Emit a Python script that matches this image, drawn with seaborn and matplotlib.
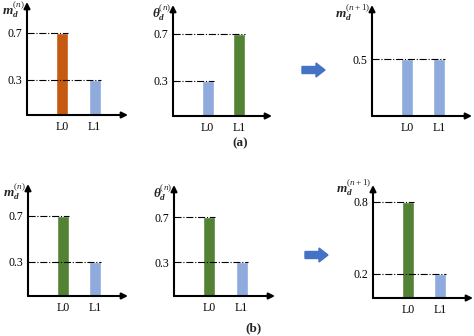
import numpy as np
import matplotlib
matplotlib.use("Agg")
import matplotlib.pyplot as plt
import matplotlib.patches as mpatches
import seaborn as sns

# data
cats = ["L0", "L1"]
m_n_a = [0.7, 0.3]
theta_n_a = [0.3, 0.7]
m_next_a = [0.5, 0.5]
m_n_b = [0.7, 0.3]
theta_n_b = [0.7, 0.3]
m_next_b = [0.8, 0.2]

orange = "#C55A11"
green = "#548235"
blue = "#8FAADC"
arrow_blue = "#4472C4"

colors_list = [[orange, blue], [blue, green], [blue, blue],
               [green, blue], [green, blue], [green, blue]]
values_list = [m_n_a, theta_n_a, m_next_a, m_n_b, theta_n_b, m_next_b]
ylabels = [r"$\mathbf{m}_{\mathbf{d}}^{(n)}$", r"$\mathbf{\theta}_{\mathbf{d}}^{(n)}$",
           r"$\mathbf{m}_{\mathbf{d}}^{(n+1)}$",
           r"$\mathbf{m}_{\mathbf{d}}^{(n)}$", r"$\mathbf{\theta}_{\mathbf{d}}^{(n)}$",
           r"$\mathbf{m}_{\mathbf{d}}^{(n+1)}$"]

# panel geometry in pixels: left, right, zero line, top, px per unit, label lift
geo = [(27, 128, 115, 2, 117.5, 2), (173, 272, 116, 5, 117.5, 2), (372, 472, 116, 5, 114, 2),
       (28, 128, 296, 184, 115, 2), (174, 275, 296, 185, 112.5, 2), (373, 473, 298, 185, 120, 5)]

sns.set_theme(style="white")
plt.rcParams["font.family"] = ["Liberation Serif", "DejaVu Serif"]
plt.rcParams["mathtext.fontset"] = "custom"
plt.rcParams["mathtext.rm"] = "Liberation Serif"
plt.rcParams["mathtext.it"] = "Liberation Serif:italic"
plt.rcParams["mathtext.bf"] = "Liberation Serif:bold:italic"

W, H = 474, 336
fig = plt.figure(figsize=(W / 100, H / 100), dpi=100)
bar_w = 0.38

for i in range(6):
    l, r, z, t, s, lift = geo[i]
    ax = fig.add_axes([l / W, 1 - z / H, (r - l) / W, (z - t) / H])
    vals = values_list[i]
    sns.barplot(x=cats, y=vals, hue=cats, palette=colors_list[i], legend=False,
                saturation=1, width=bar_w, errorbar=None, ax=ax, zorder=2)
    ax.set_xlim(-1.09, 2.03)
    ax.set_ylim(0, (z - t) / s)
    for sp in ax.spines.values():
        sp.set_visible(False)
    # dash-dot guide lines to the right edge of the furthest bar with that value
    uniq = sorted(set(vals))
    for v in uniq:
        xr = max(k for k, vv in enumerate(vals) if vv == v) + bar_w / 2
        ax.plot([-1.09, xr], [v, v], linestyle="-.", color="black", lw=0.8, zorder=3)
    ax.set_yticks(uniq)
    ax.set_yticklabels([f"{v:.1f}" for v in uniq])
    ax.tick_params(length=0, labelsize=8.5, colors="black")
    ax.tick_params(axis="y", pad=3.5)
    ax.tick_params(axis="x", pad=4)
    ax.set_xlabel("")
    ax.set_ylabel("")
    # axis arrows
    for end in [(1, 0), (0, 1)]:
        ax.annotate("", xy=end, xytext=(0, 0), xycoords="axes fraction",
                    arrowprops=dict(arrowstyle="-|>", lw=1.5, color="black",
                                    shrinkA=0, shrinkB=0, mutation_scale=9),
                    annotation_clip=False)
    ax.annotate(ylabels[i], xy=(0, 1), xycoords="axes fraction", xytext=(-1.5, lift),
                textcoords="offset points", ha="right", va="top", fontsize=9.5)

# big blue arrows between panels
for (x0, yc) in [(302, 70), (305, 255)]:
    arr = mpatches.FancyArrow(x0 / W, 1 - yc / H, 14 / W, 0, width=7 / H,
                              head_width=14 / H, head_length=9 / W,
                              length_includes_head=False, color=arrow_blue,
                              transform=fig.transFigure)
    fig.patches.append(arr)

fig.text(240 / W, 1 - 143 / H, "(a)", ha="center", va="center", fontsize=9.5, fontweight="bold")
fig.text(253 / W, 1 - 328 / H, "(b)", ha="center", va="center", fontsize=9.5, fontweight="bold")

fig.savefig("out.png", dpi=100)
